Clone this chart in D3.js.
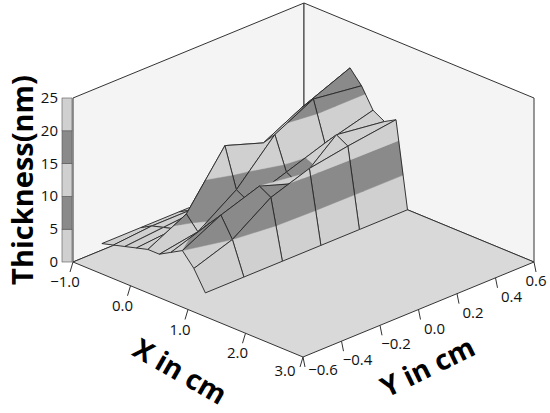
<!DOCTYPE html>
<html><head><meta charset="utf-8">
<script src="https://cdn.jsdelivr.net/npm/d3@7"></script>
<style>body{margin:0;background:#fff}svg{display:block}</style>
</head><body>
<svg id="c" width="550" height="413"></svg>
<script>
const xTicks = ["−1.0","0.0","1.0","2.0","3.0"];
const xTickVals = [-1,0,1,2,3];
const yTickVals = [-0.6,-0.4,-0.2,0,0.2,0.4,0.6];
const yTicks = ["−0.6","−0.4","−0.2","0.0","0.2","0.4","0.6"];
const zTickVals = [0,5,10,15,20,25];
const gridX = [-1,-0.8,-0.6,-0.4,-0.2,0,0.2,0.4,0.6,0.8];
const gridY = [-0.45,-0.25,-0.05,0.15,0.35,0.6];
const thickness = [
  [1,1.5,2,2.5,3,3,4,5,3,0],
  [1,2,2.5,3,6,4,6,8,5,0],
  [1,2,3,5,14,8,7,10,9,0],
  [1,2,3,6,12,14,9,8,11,0],
  [1,2,4,9,15,17,11,13,12,0],
  [1,3,7,13,18,16,13,12,13,0]
];
const bandEdges = [0,5,10,15,20,25];
const bandColors = ["#d0d0d0","#8a8a8a","#d0d0d0","#8a8a8a","#d0d0d0"];

const svg = d3.select("#c");
const O = [73,262], EX=[230,95], EY=[231,-95];
const sx = d3.scaleLinear([-1,3],[0,1]);
const sy = d3.scaleLinear([-0.6,0.6],[0,1]);
const sz = d3.scaleLinear([0,25],[0,164]);
function P(x,y,z){const s=sx(x),t=sy(y);return [O[0]+EX[0]*s+EY[0]*t, O[1]+EX[1]*s+EY[1]*t-sz(z)];}
const line = d3.line();
const poly = pts => line(pts)+"Z";

svg.append("path").attr("d",poly([P(-1,-0.6,0),P(-1,0.6,0),P(-1,0.6,25),P(-1,-0.6,25)])).attr("fill","#f4f4f4").attr("stroke","#333").attr("stroke-width",1);
svg.append("path").attr("d",poly([P(-1,0.6,0),P(3,0.6,0),P(3,0.6,25),P(-1,0.6,25)])).attr("fill","#f4f4f4").attr("stroke","#333").attr("stroke-width",1);
svg.append("path").attr("d",poly([P(-1,-0.6,0),P(-1,0.6,0),P(3,0.6,0),P(3,-0.6,0)])).attr("fill","#d9d9d9").attr("stroke","#333").attr("stroke-width",1);

const quads=[];
for(let j=0;j<gridY.length-1;j++)for(let i=0;i<gridX.length-1;i++){
  const v=[[i,j],[i+1,j],[i+1,j+1],[i,j+1]].map(([a,b])=>({x:gridX[a],y:gridY[b],z:thickness[b][a]}));
  const depth=d3.mean(v,d=>sx(d.x)-sy(d.y));
  quads.push({v,depth});
}
quads.sort((a,b)=>a.depth-b.depth);
function clip(pts,lim,keepAbove){
  const out=[];
  for(let k=0;k<pts.length;k++){
    const a=pts[k],b=pts[(k+1)%pts.length];
    const ina=keepAbove?a.z>=lim:a.z<=lim, inb=keepAbove?b.z>=lim:b.z<=lim;
    if(ina)out.push(a);
    if(ina!==inb){const f=(lim-a.z)/(b.z-a.z);out.push({x:a.x+f*(b.x-a.x),y:a.y+f*(b.y-a.y),z:lim});}
  }
  return out;
}
const g=svg.append("g");
quads.forEach(q=>{
  for(let b=0;b<bandColors.length;b++){
    let p=clip(q.v,bandEdges[b],true); if(p.length<3)continue;
    p=clip(p,bandEdges[b+1],false); if(p.length<3)continue;
    g.append("path").attr("d",poly(p.map(d=>P(d.x,d.y,d.z)))).attr("fill",bandColors[b]).attr("stroke",bandColors[b]).attr("stroke-width",0.5);
  }
  g.append("path").attr("d",poly(q.v.map(d=>P(d.x,d.y,d.z)))).attr("fill","none").attr("stroke","#222").attr("stroke-width",0.9);
});

const zPix = z => O[1]-sz(z);
for(let b=0;b<bandColors.length;b++){
  svg.append("rect").attr("x",62).attr("width",10).attr("y",zPix(bandEdges[b+1])).attr("height",zPix(bandEdges[b])-zPix(bandEdges[b+1])).attr("fill",bandColors[b]).attr("stroke","#555").attr("stroke-width",0.6);
}
const font="'Open Sans', 'DejaVu Sans', sans-serif";
zTickVals.forEach(v=>svg.append("text").attr("x",58).attr("y",zPix(v)+5).attr("text-anchor","end").attr("font-family",font).attr("font-size",15).attr("fill","#111").text(v));

xTickVals.forEach((v,k)=>{
  const p=P(v,-0.6,0);
  svg.append("line").attr("x1",p[0]).attr("y1",p[1]).attr("x2",p[0]-3).attr("y2",p[1]+10).attr("stroke","#333");
  svg.append("text").attr("x",p[0]-8+(k===4?-10:0)).attr("y",p[1]+25+(k===4?-6:0)).attr("text-anchor","middle").attr("font-family",font).attr("font-size",15).attr("fill","#111").text(xTicks[k]);
});
yTickVals.forEach((v,k)=>{
  const p=P(3,v,0);
  svg.append("line").attr("x1",p[0]).attr("y1",p[1]).attr("x2",p[0]+2).attr("y2",p[1]+10).attr("stroke","#333");
  const dx = k===0?20:(k===6?2:16);
  svg.append("text").attr("x",p[0]+dx).attr("y",p[1]+24-(k===0?6:0)).attr("text-anchor","middle").attr("font-family",font).attr("font-size",15).attr("fill","#111").text(yTicks[k]);
});

svg.append("text").attr("transform","translate(33,180) rotate(-90)").attr("text-anchor","middle").attr("font-family",font).attr("font-weight","bold").attr("font-size",29).text("Thickness(nm)");
svg.append("text").attr("transform","translate(175,380) rotate(30)").attr("text-anchor","middle").attr("font-family",font).attr("font-weight","bold").attr("font-size",28).text("X in cm");
svg.append("text").attr("transform","translate(432,376) rotate(-26)").attr("text-anchor","middle").attr("font-family",font).attr("font-weight","bold").attr("font-size",28).text("Y in cm");
</script>
</body></html>
